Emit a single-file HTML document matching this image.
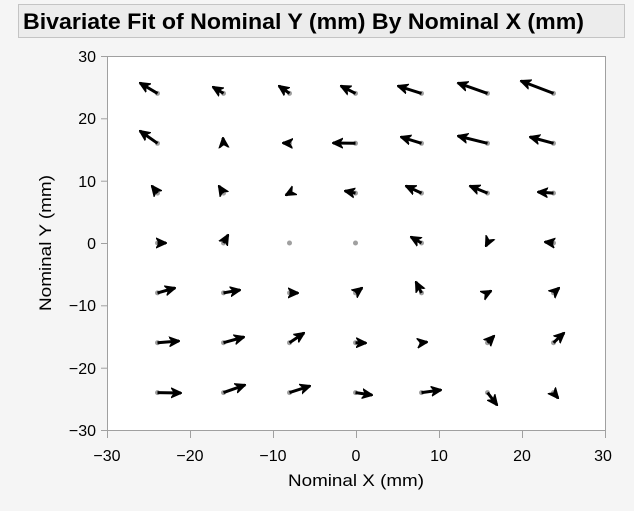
<!DOCTYPE html>
<html><head><style>
body{margin:0;background:#f5f5f5;}
</style></head><body>
<svg width="634" height="511" xmlns="http://www.w3.org/2000/svg" style="display:block;font-family:'Liberation Sans',sans-serif">
<rect width="634" height="511" fill="#f5f5f5"/>
<rect x="18.5" y="4.5" width="606" height="33" fill="#ececec" stroke="#c4c4c4"/>
<text x="23" y="29" font-size="22" font-weight="bold" fill="#000" textLength="561" lengthAdjust="spacingAndGlyphs">Bivariate Fit of Nominal Y (mm) By Nominal X (mm)</text>
<rect x="107.5" y="56.5" width="498" height="374" fill="#fff" stroke="#a0a0a0"/>
<g stroke="#a0a0a0">
<line x1="101" y1="56.5" x2="107" y2="56.5"/><line x1="101" y1="118.8" x2="107" y2="118.8"/><line x1="101" y1="181.2" x2="107" y2="181.2"/><line x1="101" y1="243.5" x2="107" y2="243.5"/><line x1="101" y1="305.8" x2="107" y2="305.8"/><line x1="101" y1="368.2" x2="107" y2="368.2"/><line x1="101" y1="430.5" x2="107" y2="430.5"/>
<line x1="107.5" y1="431" x2="107.5" y2="438"/><line x1="190.5" y1="431" x2="190.5" y2="438"/><line x1="273.5" y1="431" x2="273.5" y2="438"/><line x1="356.5" y1="431" x2="356.5" y2="438"/><line x1="439.5" y1="431" x2="439.5" y2="438"/><line x1="522.5" y1="431" x2="522.5" y2="438"/><line x1="605.5" y1="431" x2="605.5" y2="438"/>
</g>
<g font-size="16" fill="#000" text-anchor="end">
<text x="96" y="62">30</text><text x="96" y="124">20</text><text x="96" y="187">10</text><text x="96" y="249">0</text><text x="96" y="311">−10</text><text x="96" y="374">−20</text><text x="96" y="436">−30</text>
</g>
<g font-size="16" fill="#000" text-anchor="middle">
<text x="107" y="461">−30</text><text x="190" y="461">−20</text><text x="273" y="461">−10</text><text x="356" y="461">0</text><text x="439" y="461">10</text><text x="522" y="461">20</text><text x="603" y="461">30</text>
</g>
<g font-size="17" fill="#000">
<text x="288" y="486" textLength="136" lengthAdjust="spacingAndGlyphs">Nominal X (mm)</text>
<text transform="translate(51,311) rotate(-90)" textLength="136" lengthAdjust="spacingAndGlyphs">Nominal Y (mm)</text>
</g>
<defs><marker id="a" viewBox="0 0 10 10" refX="9" refY="5" markerWidth="11" markerHeight="11" markerUnits="userSpaceOnUse" orient="auto"><path d="M0,0.5 L10,5 L0,9.5 L3,5z" fill="#000" stroke="#000" stroke-width="1"/></marker></defs>
<g fill="#a0a0a0">
<circle cx="157.5" cy="93.4" r="2.5"/><circle cx="223.5" cy="93.4" r="2.5"/><circle cx="289.5" cy="93.4" r="2.5"/><circle cx="355.5" cy="93.4" r="2.5"/><circle cx="421.5" cy="93.4" r="2.5"/><circle cx="487.5" cy="93.4" r="2.5"/><circle cx="553.5" cy="93.4" r="2.5"/>
<circle cx="157.5" cy="143.3" r="2.5"/><circle cx="223.5" cy="143.3" r="2.5"/><circle cx="289.5" cy="143.3" r="2.5"/><circle cx="355.5" cy="143.3" r="2.5"/><circle cx="421.5" cy="143.3" r="2.5"/><circle cx="487.5" cy="143.3" r="2.5"/><circle cx="553.5" cy="143.3" r="2.5"/>
<circle cx="157.5" cy="193.1" r="2.5"/><circle cx="223.5" cy="193.1" r="2.5"/><circle cx="289.5" cy="193.1" r="2.5"/><circle cx="355.5" cy="193.1" r="2.5"/><circle cx="421.5" cy="193.1" r="2.5"/><circle cx="487.5" cy="193.1" r="2.5"/><circle cx="553.5" cy="193.1" r="2.5"/>
<circle cx="157.5" cy="243" r="2.5"/><circle cx="223.5" cy="243" r="2.5"/><circle cx="289.5" cy="243" r="2.5"/><circle cx="355.5" cy="243" r="2.5"/><circle cx="421.5" cy="243" r="2.5"/><circle cx="487.5" cy="243" r="2.5"/><circle cx="553.5" cy="243" r="2.5"/>
<circle cx="157.5" cy="292.9" r="2.5"/><circle cx="223.5" cy="292.9" r="2.5"/><circle cx="289.5" cy="292.9" r="2.5"/><circle cx="355.5" cy="292.9" r="2.5"/><circle cx="421.5" cy="292.9" r="2.5"/><circle cx="487.5" cy="292.9" r="2.5"/><circle cx="553.5" cy="292.9" r="2.5"/>
<circle cx="157.5" cy="342.7" r="2.5"/><circle cx="223.5" cy="342.7" r="2.5"/><circle cx="289.5" cy="342.7" r="2.5"/><circle cx="355.5" cy="342.7" r="2.5"/><circle cx="421.5" cy="342.7" r="2.5"/><circle cx="487.5" cy="342.7" r="2.5"/><circle cx="553.5" cy="342.7" r="2.5"/>
<circle cx="157.5" cy="392.6" r="2.5"/><circle cx="223.5" cy="392.6" r="2.5"/><circle cx="289.5" cy="392.6" r="2.5"/><circle cx="355.5" cy="392.6" r="2.5"/><circle cx="421.5" cy="392.6" r="2.5"/><circle cx="487.5" cy="392.6" r="2.5"/><circle cx="553.5" cy="392.6" r="2.5"/>
</g>
<g stroke="#000" stroke-width="3" marker-end="url(#a)">
<line x1="157.5" y1="93.4" x2="140" y2="83"/><line x1="223.5" y1="93.4" x2="213" y2="87"/><line x1="289.5" y1="93.4" x2="279" y2="86"/><line x1="355.5" y1="93.4" x2="341" y2="86"/><line x1="421.5" y1="93.4" x2="398" y2="86"/><line x1="487.5" y1="93.4" x2="458" y2="83"/><line x1="553.5" y1="93.4" x2="521" y2="81"/>
<line x1="157.5" y1="143.3" x2="140" y2="131"/><line x1="223.5" y1="143.3" x2="223" y2="138"/><line x1="289.5" y1="143.3" x2="283" y2="143"/><line x1="355.5" y1="143.3" x2="333" y2="143"/><line x1="421.5" y1="143.3" x2="401" y2="137"/><line x1="487.5" y1="143.3" x2="458" y2="136"/><line x1="553.5" y1="143.3" x2="530" y2="137"/>
<line x1="157.5" y1="193.1" x2="152" y2="186"/><line x1="223.5" y1="193.1" x2="219" y2="186"/><line x1="289.5" y1="193.1" x2="286" y2="195"/><line x1="355.5" y1="193.1" x2="345" y2="191"/><line x1="421.5" y1="193.1" x2="406" y2="186"/><line x1="487.5" y1="193.1" x2="470" y2="186"/><line x1="553.5" y1="193.1" x2="538" y2="192"/>
<line x1="157.5" y1="243" x2="166" y2="243"/><line x1="223.5" y1="243" x2="228" y2="235"/><line x1="421.5" y1="243" x2="411" y2="237"/><line x1="487.5" y1="243" x2="486" y2="246"/><line x1="553.5" y1="243" x2="545" y2="242"/>
<line x1="157.5" y1="292.9" x2="175" y2="288"/><line x1="223.5" y1="292.9" x2="240" y2="290"/><line x1="289.5" y1="292.9" x2="298" y2="293"/><line x1="355.5" y1="292.9" x2="362" y2="288"/><line x1="421.5" y1="292.9" x2="416" y2="282"/><line x1="487.5" y1="292.9" x2="491" y2="291"/><line x1="553.5" y1="292.9" x2="559" y2="288"/>
<line x1="157.5" y1="342.7" x2="179" y2="341"/><line x1="223.5" y1="342.7" x2="244" y2="337"/><line x1="289.5" y1="342.7" x2="304" y2="333"/><line x1="355.5" y1="342.7" x2="366" y2="343"/><line x1="421.5" y1="342.7" x2="427" y2="342"/><line x1="487.5" y1="342.7" x2="494" y2="336"/><line x1="553.5" y1="342.7" x2="564" y2="333"/>
<line x1="157.5" y1="392.6" x2="181" y2="393"/><line x1="223.5" y1="392.6" x2="245" y2="385"/><line x1="289.5" y1="392.6" x2="310" y2="386"/><line x1="355.5" y1="392.6" x2="372" y2="395"/><line x1="421.5" y1="392.6" x2="441" y2="390"/><line x1="487.5" y1="392.6" x2="497" y2="405"/><line x1="553.5" y1="392.6" x2="558" y2="398"/>
</g>
</svg>
</body></html>
